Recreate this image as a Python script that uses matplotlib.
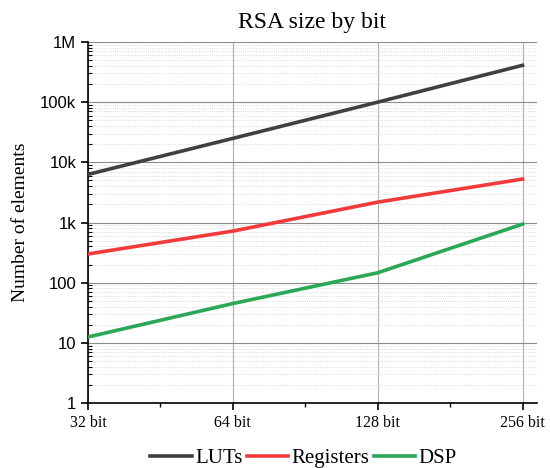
import matplotlib
matplotlib.use("Agg")
import matplotlib.pyplot as plt
import numpy as np
from matplotlib.ticker import FixedLocator, LogLocator, NullFormatter

categories = ['32 bit', '64 bit', '128 bit', '256 bit']
luts = [6300, 25000, 100000, 410000]
registers = [300, 720, 2180, 5270]
dsp = [12.5, 45, 146, 940]
ytick_vals = [1, 10, 100, 1e3, 1e4, 1e5, 1e6]
ytick_labels = ['1', '10', '100', '1k', '10k', '100k', '1M']

serif = 'Liberation Serif'
sans = 'Liberation Sans'

fig = plt.figure(figsize=(5.5, 4.68), dpi=100)
ax = fig.add_axes([88/550, 1 - 403/468, (537-88)/550, (403-42)/468])

x = np.arange(len(categories))
ax.plot(x, luts, color='#404040', lw=2.6, label='LUTs', zorder=3)
ax.plot(x, registers, color='#f23a3a', lw=2.6, label='Registers', zorder=3)
ax.plot(x, dsp, color='#2aa857', lw=2.6, label='DSP', zorder=3)

ax.set_yscale('log')
ax.set_ylim(1, 1e6)
ax.set_xlim(0, 3.1)

ax.set_yticks(ytick_vals)
ax.set_yticklabels(ytick_labels, fontfamily=sans, fontsize=12)
ax.yaxis.set_minor_locator(LogLocator(base=10, subs=np.arange(2, 10)))
ax.yaxis.set_minor_formatter(NullFormatter())

ax.set_xticks(x)
ax.set_xticklabels(categories, fontfamily=serif, fontsize=11.5)
ax.xaxis.set_minor_locator(FixedLocator([0.5, 1.5, 2.5]))

ax.grid(True, which='major', axis='y', color='#8c8c8c', lw=0.8)
ax.grid(True, which='minor', axis='y', color='#d0d0d0', lw=0.6, ls=':')
ax.grid(True, which='major', axis='x', color='#b0b0b0', lw=0.8)

for s in ['top', 'right']:
    ax.spines[s].set_visible(False)
ax.spines['left'].set_linewidth(1.2)
ax.spines['bottom'].set_linewidth(1.2)
ax.tick_params(axis='both', which='major', direction='out', length=5, width=1.2)
ax.tick_params(axis='y', which='minor', direction='in', length=3, width=0.8)
ax.tick_params(axis='x', which='minor', direction='out', length=3, width=1.0)

ax.set_title('RSA size by bit', fontfamily=serif, fontsize=17, pad=10)
ax.set_ylabel('Number of elements', fontfamily=serif, fontsize=14, labelpad=8)

leg = ax.legend(loc='upper center', bbox_to_anchor=(0.48, -0.075), ncol=3, frameon=False,
                prop={'family': serif, 'size': 15}, handlelength=2.0, columnspacing=0.2,
                handletextpad=0.15)

fig.savefig('out.png', dpi=100)
